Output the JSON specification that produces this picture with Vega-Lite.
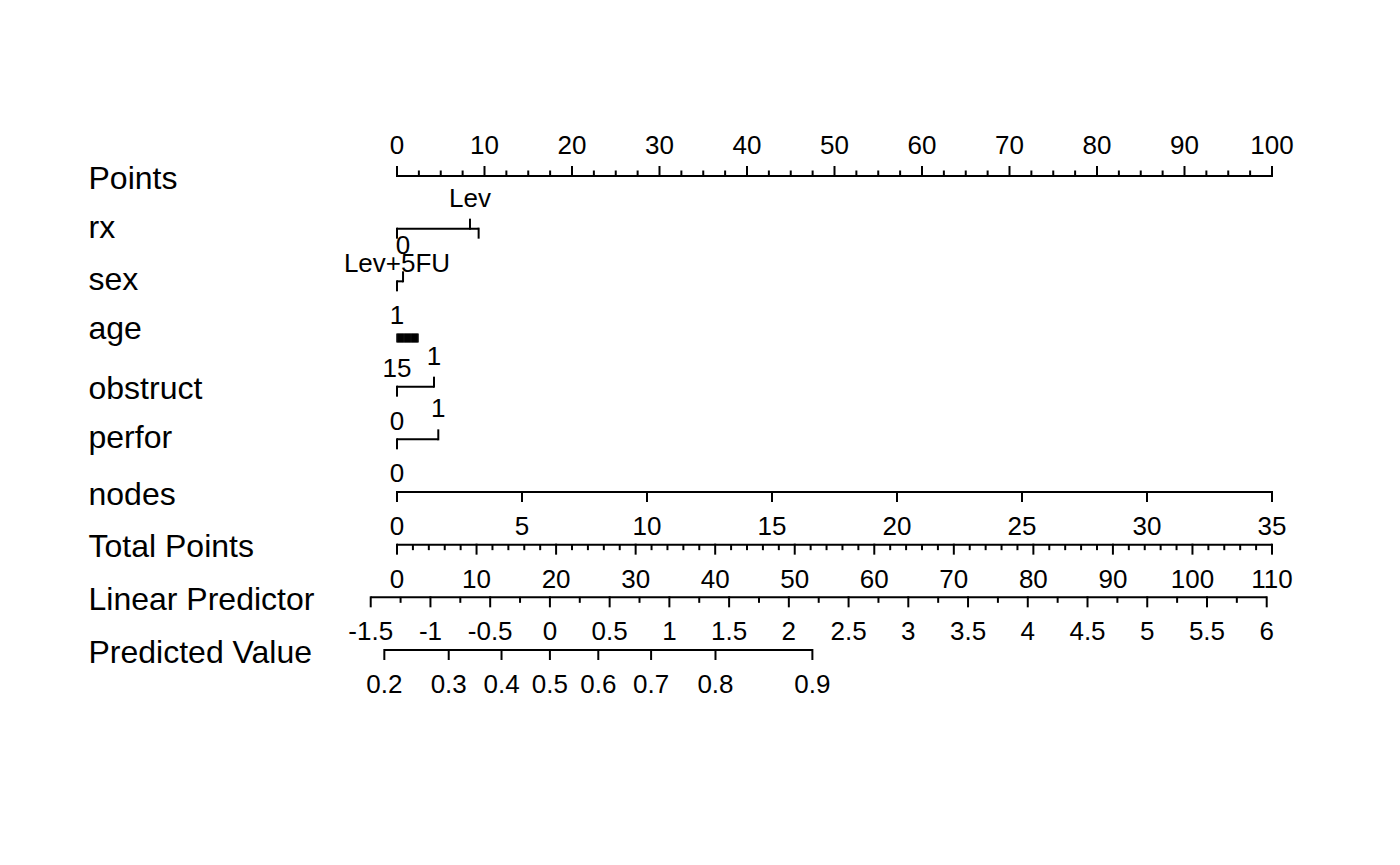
{
  "$schema": "https://vega.github.io/schema/vega-lite/v6.json",
  "width": 1400,
  "height": 865,
  "autosize": {"type": "fit", "contains": "padding"},
  "padding": 0,
  "background": "white",
  "config": {
    "view": {"stroke": null},
    "font": "Liberation Sans",
    "text": {"font": "Liberation Sans", "color": "black"},
    "tick": {"color": "black", "opacity": 1, "thickness": 2, "orient": "vertical"},
    "rule": {"color": "black", "strokeWidth": 2}
  },
  "datasets": {
    "pts_lines": [
      {"row": "Points", "x": 0, "x2": 100},
      {"row": "rx", "x": 0, "x2": 9.33},
      {"row": "sex", "x": 0, "x2": 0.69},
      {"row": "obstruct", "x": 0, "x2": 4.23},
      {"row": "perfor", "x": 0, "x2": 4.72}
    ],
    "pts_ticks": [
      {"row": "Points", "x": 0, "kind": "up"}, {"row": "Points", "x": 2.5, "kind": "upminor"},
      {"row": "Points", "x": 5, "kind": "upminor"}, {"row": "Points", "x": 7.5, "kind": "upminor"},
      {"row": "Points", "x": 10, "kind": "up"}, {"row": "Points", "x": 12.5, "kind": "upminor"},
      {"row": "Points", "x": 15, "kind": "upminor"}, {"row": "Points", "x": 17.5, "kind": "upminor"},
      {"row": "Points", "x": 20, "kind": "up"}, {"row": "Points", "x": 22.5, "kind": "upminor"},
      {"row": "Points", "x": 25, "kind": "upminor"}, {"row": "Points", "x": 27.5, "kind": "upminor"},
      {"row": "Points", "x": 30, "kind": "up"}, {"row": "Points", "x": 32.5, "kind": "upminor"},
      {"row": "Points", "x": 35, "kind": "upminor"}, {"row": "Points", "x": 37.5, "kind": "upminor"},
      {"row": "Points", "x": 40, "kind": "up"}, {"row": "Points", "x": 42.5, "kind": "upminor"},
      {"row": "Points", "x": 45, "kind": "upminor"}, {"row": "Points", "x": 47.5, "kind": "upminor"},
      {"row": "Points", "x": 50, "kind": "up"}, {"row": "Points", "x": 52.5, "kind": "upminor"},
      {"row": "Points", "x": 55, "kind": "upminor"}, {"row": "Points", "x": 57.5, "kind": "upminor"},
      {"row": "Points", "x": 60, "kind": "up"}, {"row": "Points", "x": 62.5, "kind": "upminor"},
      {"row": "Points", "x": 65, "kind": "upminor"}, {"row": "Points", "x": 67.5, "kind": "upminor"},
      {"row": "Points", "x": 70, "kind": "up"}, {"row": "Points", "x": 72.5, "kind": "upminor"},
      {"row": "Points", "x": 75, "kind": "upminor"}, {"row": "Points", "x": 77.5, "kind": "upminor"},
      {"row": "Points", "x": 80, "kind": "up"}, {"row": "Points", "x": 82.5, "kind": "upminor"},
      {"row": "Points", "x": 85, "kind": "upminor"}, {"row": "Points", "x": 87.5, "kind": "upminor"},
      {"row": "Points", "x": 90, "kind": "up"}, {"row": "Points", "x": 92.5, "kind": "upminor"},
      {"row": "Points", "x": 95, "kind": "upminor"}, {"row": "Points", "x": 97.5, "kind": "upminor"},
      {"row": "Points", "x": 100, "kind": "up"},
      {"row": "rx", "x": 0, "kind": "down"}, {"row": "rx", "x": 8.34, "kind": "up"}, {"row": "rx", "x": 9.33, "kind": "down"},
      {"row": "sex", "x": 0, "kind": "down"}, {"row": "sex", "x": 0.69, "kind": "up"},
      {"row": "obstruct", "x": 0, "kind": "down"}, {"row": "obstruct", "x": 4.23, "kind": "up"},
      {"row": "perfor", "x": 0, "kind": "down"}, {"row": "perfor", "x": 4.72, "kind": "up"}
    ],
    "age_ticks": [
      {"row": "age", "x": 0}, {"row": "age", "x": 0.1}, {"row": "age", "x": 0.2}, {"row": "age", "x": 0.3},
      {"row": "age", "x": 0.4}, {"row": "age", "x": 0.5}, {"row": "age", "x": 0.6}, {"row": "age", "x": 0.7},
      {"row": "age", "x": 0.8}, {"row": "age", "x": 0.9}, {"row": "age", "x": 1.0}, {"row": "age", "x": 1.1},
      {"row": "age", "x": 1.2}, {"row": "age", "x": 1.3}, {"row": "age", "x": 1.4}, {"row": "age", "x": 1.5},
      {"row": "age", "x": 1.6}, {"row": "age", "x": 1.7}, {"row": "age", "x": 1.8}, {"row": "age", "x": 1.9},
      {"row": "age", "x": 2.0}, {"row": "age", "x": 2.1}, {"row": "age", "x": 2.2}, {"row": "age", "x": 2.3},
      {"row": "age", "x": 2.4}
    ],
    "pts_labels_above": [
      {"row": "Points", "x": 0, "label": "0"}, {"row": "Points", "x": 10, "label": "10"},
      {"row": "Points", "x": 20, "label": "20"}, {"row": "Points", "x": 30, "label": "30"},
      {"row": "Points", "x": 40, "label": "40"}, {"row": "Points", "x": 50, "label": "50"},
      {"row": "Points", "x": 60, "label": "60"}, {"row": "Points", "x": 70, "label": "70"},
      {"row": "Points", "x": 80, "label": "80"}, {"row": "Points", "x": 90, "label": "90"},
      {"row": "Points", "x": 100, "label": "100"},
      {"row": "rx", "x": 8.34, "label": "Lev"},
      {"row": "obstruct", "x": 4.23, "label": "1"},
      {"row": "perfor", "x": 4.72, "label": "1"}
    ],
    "pts_labels_high": [
      {"row": "sex", "x": 0.69, "label": "0"}
    ],
    "pts_labels_below": [
      {"row": "rx", "x": 0, "label": "Lev+5FU"},
      {"row": "sex", "x": 0, "label": "1"},
      {"row": "age", "x": 0, "label": "15"},
      {"row": "obstruct", "x": 0, "label": "0"},
      {"row": "perfor", "x": 0, "label": "0"}
    ],
    "nodes_line": [{"row": "nodes", "x": 0, "x2": 35}],
    "nodes_ticks": [
      {"row": "nodes", "x": 0}, {"row": "nodes", "x": 5}, {"row": "nodes", "x": 10}, {"row": "nodes", "x": 15},
      {"row": "nodes", "x": 20}, {"row": "nodes", "x": 25}, {"row": "nodes", "x": 30}, {"row": "nodes", "x": 35}
    ],
    "total_line": [{"row": "Total Points", "x": 0, "x2": 110}],
    "total_ticks": [
      {"row": "Total Points", "x": 0, "major": true}, {"row": "Total Points", "x": 2, "major": false},
      {"row": "Total Points", "x": 4, "major": false}, {"row": "Total Points", "x": 6, "major": false},
      {"row": "Total Points", "x": 8, "major": false}, {"row": "Total Points", "x": 10, "major": true},
      {"row": "Total Points", "x": 12, "major": false}, {"row": "Total Points", "x": 14, "major": false},
      {"row": "Total Points", "x": 16, "major": false}, {"row": "Total Points", "x": 18, "major": false},
      {"row": "Total Points", "x": 20, "major": true}, {"row": "Total Points", "x": 22, "major": false},
      {"row": "Total Points", "x": 24, "major": false}, {"row": "Total Points", "x": 26, "major": false},
      {"row": "Total Points", "x": 28, "major": false}, {"row": "Total Points", "x": 30, "major": true},
      {"row": "Total Points", "x": 32, "major": false}, {"row": "Total Points", "x": 34, "major": false},
      {"row": "Total Points", "x": 36, "major": false}, {"row": "Total Points", "x": 38, "major": false},
      {"row": "Total Points", "x": 40, "major": true}, {"row": "Total Points", "x": 42, "major": false},
      {"row": "Total Points", "x": 44, "major": false}, {"row": "Total Points", "x": 46, "major": false},
      {"row": "Total Points", "x": 48, "major": false}, {"row": "Total Points", "x": 50, "major": true},
      {"row": "Total Points", "x": 52, "major": false}, {"row": "Total Points", "x": 54, "major": false},
      {"row": "Total Points", "x": 56, "major": false}, {"row": "Total Points", "x": 58, "major": false},
      {"row": "Total Points", "x": 60, "major": true}, {"row": "Total Points", "x": 62, "major": false},
      {"row": "Total Points", "x": 64, "major": false}, {"row": "Total Points", "x": 66, "major": false},
      {"row": "Total Points", "x": 68, "major": false}, {"row": "Total Points", "x": 70, "major": true},
      {"row": "Total Points", "x": 72, "major": false}, {"row": "Total Points", "x": 74, "major": false},
      {"row": "Total Points", "x": 76, "major": false}, {"row": "Total Points", "x": 78, "major": false},
      {"row": "Total Points", "x": 80, "major": true}, {"row": "Total Points", "x": 82, "major": false},
      {"row": "Total Points", "x": 84, "major": false}, {"row": "Total Points", "x": 86, "major": false},
      {"row": "Total Points", "x": 88, "major": false}, {"row": "Total Points", "x": 90, "major": true},
      {"row": "Total Points", "x": 92, "major": false}, {"row": "Total Points", "x": 94, "major": false},
      {"row": "Total Points", "x": 96, "major": false}, {"row": "Total Points", "x": 98, "major": false},
      {"row": "Total Points", "x": 100, "major": true}, {"row": "Total Points", "x": 102, "major": false},
      {"row": "Total Points", "x": 104, "major": false}, {"row": "Total Points", "x": 106, "major": false},
      {"row": "Total Points", "x": 108, "major": false}, {"row": "Total Points", "x": 110, "major": true}
    ],
    "lp_lines": [
      {"row": "Linear Predictor", "x": -1.5, "x2": 6},
      {"row": "Predicted Value", "x": -1.386, "x2": 2.197}
    ],
    "lp_ticks": [
      {"row": "Linear Predictor", "x": -1.5, "major": true, "label": "-1.5"},
      {"row": "Linear Predictor", "x": -1.25, "major": false},
      {"row": "Linear Predictor", "x": -1, "major": true, "label": "-1"},
      {"row": "Linear Predictor", "x": -0.75, "major": false},
      {"row": "Linear Predictor", "x": -0.5, "major": true, "label": "-0.5"},
      {"row": "Linear Predictor", "x": -0.25, "major": false},
      {"row": "Linear Predictor", "x": 0, "major": true, "label": "0"},
      {"row": "Linear Predictor", "x": 0.25, "major": false},
      {"row": "Linear Predictor", "x": 0.5, "major": true, "label": "0.5"},
      {"row": "Linear Predictor", "x": 0.75, "major": false},
      {"row": "Linear Predictor", "x": 1, "major": true, "label": "1"},
      {"row": "Linear Predictor", "x": 1.25, "major": false},
      {"row": "Linear Predictor", "x": 1.5, "major": true, "label": "1.5"},
      {"row": "Linear Predictor", "x": 1.75, "major": false},
      {"row": "Linear Predictor", "x": 2, "major": true, "label": "2"},
      {"row": "Linear Predictor", "x": 2.25, "major": false},
      {"row": "Linear Predictor", "x": 2.5, "major": true, "label": "2.5"},
      {"row": "Linear Predictor", "x": 2.75, "major": false},
      {"row": "Linear Predictor", "x": 3, "major": true, "label": "3"},
      {"row": "Linear Predictor", "x": 3.25, "major": false},
      {"row": "Linear Predictor", "x": 3.5, "major": true, "label": "3.5"},
      {"row": "Linear Predictor", "x": 3.75, "major": false},
      {"row": "Linear Predictor", "x": 4, "major": true, "label": "4"},
      {"row": "Linear Predictor", "x": 4.25, "major": false},
      {"row": "Linear Predictor", "x": 4.5, "major": true, "label": "4.5"},
      {"row": "Linear Predictor", "x": 4.75, "major": false},
      {"row": "Linear Predictor", "x": 5, "major": true, "label": "5"},
      {"row": "Linear Predictor", "x": 5.25, "major": false},
      {"row": "Linear Predictor", "x": 5.5, "major": true, "label": "5.5"},
      {"row": "Linear Predictor", "x": 5.75, "major": false},
      {"row": "Linear Predictor", "x": 6, "major": true, "label": "6"},
      {"row": "Predicted Value", "x": -1.386, "major": true, "label": "0.2"},
      {"row": "Predicted Value", "x": -0.847, "major": true, "label": "0.3"},
      {"row": "Predicted Value", "x": -0.405, "major": true, "label": "0.4"},
      {"row": "Predicted Value", "x": 0, "major": true, "label": "0.5"},
      {"row": "Predicted Value", "x": 0.405, "major": true, "label": "0.6"},
      {"row": "Predicted Value", "x": 0.847, "major": true, "label": "0.7"},
      {"row": "Predicted Value", "x": 1.386, "major": true, "label": "0.8"},
      {"row": "Predicted Value", "x": 2.197, "major": true, "label": "0.9"}
    ]
  },
  "encoding": {
    "y": {
      "field": "row",
      "type": "nominal",
      "scale": {"type": "point", "padding": 0, "range": [176, 650],
        "domain": ["Points", "rx", "sex", "age", "obstruct", "perfor", "nodes", "Total Points", "Linear Predictor", "Predicted Value"]},
      "axis": {
        "title": null,
        "orient": "left",
        "offset": -88,
        "domain": false,
        "ticks": false,
        "tickSize": 0,
        "grid": false,
        "labelPadding": 0,
        "labelAlign": "left",
        "labelBaseline": "alphabetic",
        "labelOffset": {
          "condition": [
            {"test": "datum.value == 'age'", "value": 4.5},
            {"test": "datum.value == 'rx' || datum.value == 'sex' || datum.value == 'perfor'", "value": 8.5}
          ],
          "value": 12
        },
        "labelFont": "Liberation Sans",
        "labelFontSize": 32,
        "labelColor": "black",
        "labelLimit": 0,
        "labelOverlap": false
      }
    }
  },
  "layer": [
    {
      "encoding": {
        "x": {"field": "x", "type": "quantitative", "scale": {"domain": [-45.371, 114.629], "nice": false, "zero": false}, "axis": null}
      },
      "layer": [
        {
          "data": {"name": "pts_lines"},
          "mark": {"type": "rule"},
          "encoding": {"x2": {"field": "x2"}}
        },
        {
          "data": {"name": "pts_ticks"},
          "transform": [{"filter": "datum.kind == 'up'"}],
          "mark": {"type": "tick", "size": 11, "yOffset": -4.5},
          "encoding": {}
        },
        {
          "data": {"name": "pts_ticks"},
          "transform": [{"filter": "datum.kind == 'upminor'"}],
          "mark": {"type": "tick", "size": 6, "yOffset": -2.5},
          "encoding": {}
        },
        {
          "data": {"name": "pts_ticks"},
          "transform": [{"filter": "datum.kind == 'down'"}],
          "mark": {"type": "tick", "size": 11, "yOffset": 4.5},
          "encoding": {}
        },
        {
          "data": {"name": "age_ticks"},
          "mark": {"type": "tick", "size": 9, "yOffset": 4, "thickness": 1.5},
          "encoding": {}
        },
        {
          "data": {"name": "pts_labels_above"},
          "mark": {"type": "text", "align": "center", "baseline": "alphabetic", "dy": -22, "fontSize": 26},
          "encoding": {"text": {"field": "label"}}
        },
        {
          "data": {"name": "pts_labels_high"},
          "mark": {"type": "text", "align": "center", "baseline": "alphabetic", "dy": -27, "fontSize": 26},
          "encoding": {"text": {"field": "label"}}
        },
        {
          "data": {"name": "pts_labels_below"},
          "mark": {"type": "text", "align": "center", "baseline": "alphabetic", "dy": 43, "fontSize": 26},
          "encoding": {"text": {"field": "label"}}
        }
      ]
    },
    {
      "encoding": {
        "x": {"field": "x", "type": "quantitative", "scale": {"domain": [-15.88, 40.12], "nice": false, "zero": false}, "axis": null}
      },
      "layer": [
        {
          "data": {"name": "nodes_line"},
          "mark": {"type": "rule"},
          "encoding": {"x2": {"field": "x2"}}
        },
        {
          "data": {"name": "nodes_ticks"},
          "mark": {"type": "tick", "size": 11, "yOffset": 4.5},
          "encoding": {}
        },
        {
          "data": {"name": "nodes_ticks"},
          "mark": {"type": "text", "align": "center", "baseline": "alphabetic", "dy": 43, "fontSize": 26},
          "encoding": {"text": {"field": "x", "type": "quantitative", "format": "d"}}
        }
      ]
    },
    {
      "encoding": {
        "x": {"field": "x", "type": "quantitative", "scale": {"domain": [-49.909, 126.091], "nice": false, "zero": false}, "axis": null}
      },
      "layer": [
        {
          "data": {"name": "total_line"},
          "mark": {"type": "rule"},
          "encoding": {"x2": {"field": "x2"}}
        },
        {
          "data": {"name": "total_ticks"},
          "transform": [{"filter": "datum.major"}],
          "mark": {"type": "tick", "size": 11, "yOffset": 4.5},
          "encoding": {}
        },
        {
          "data": {"name": "total_ticks"},
          "transform": [{"filter": "!datum.major"}],
          "mark": {"type": "tick", "size": 6, "yOffset": 2.5},
          "encoding": {}
        },
        {
          "data": {"name": "total_ticks"},
          "transform": [{"filter": "datum.major"}],
          "mark": {"type": "text", "align": "center", "baseline": "alphabetic", "dy": 43, "fontSize": 26},
          "encoding": {"text": {"field": "x", "type": "quantitative", "format": "d"}}
        }
      ]
    },
    {
      "encoding": {
        "x": {"field": "x", "type": "quantitative", "scale": {"domain": [-4.603, 7.1157], "nice": false, "zero": false}, "axis": null}
      },
      "layer": [
        {
          "data": {"name": "lp_lines"},
          "mark": {"type": "rule"},
          "encoding": {"x2": {"field": "x2"}}
        },
        {
          "data": {"name": "lp_ticks"},
          "transform": [{"filter": "datum.major"}],
          "mark": {"type": "tick", "size": 11, "yOffset": 4.5},
          "encoding": {}
        },
        {
          "data": {"name": "lp_ticks"},
          "transform": [{"filter": "!datum.major"}],
          "mark": {"type": "tick", "size": 6, "yOffset": 2.5},
          "encoding": {}
        },
        {
          "data": {"name": "lp_ticks"},
          "transform": [{"filter": "datum.major"}],
          "mark": {"type": "text", "align": "center", "baseline": "alphabetic", "dy": 43, "fontSize": 26},
          "encoding": {"text": {"field": "label"}}
        }
      ]
    }
  ],
  "resolve": {"scale": {"x": "independent"}}
}
